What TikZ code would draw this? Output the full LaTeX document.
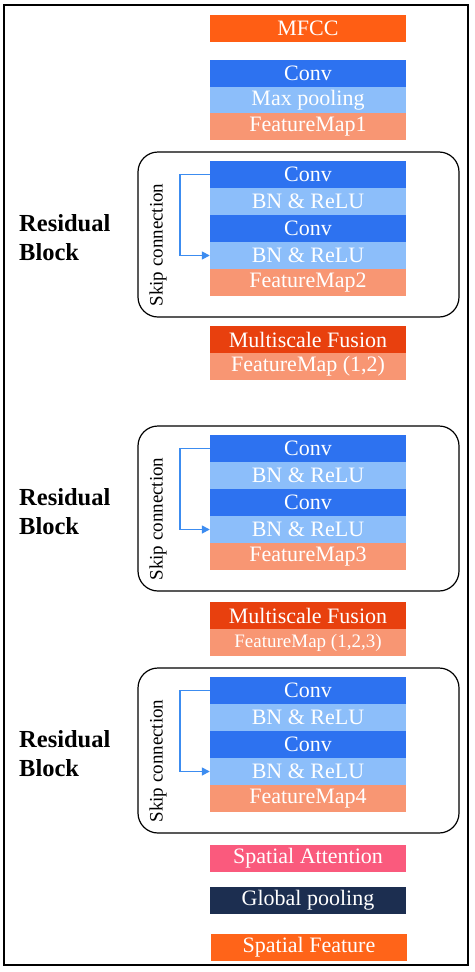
\documentclass[tikz,border=0pt]{standalone}
\usepackage{fontspec}
\setmainfont{Liberation Serif}
\usetikzlibrary{arrows.meta}

\definecolor{mfcc}{RGB}{255,94,20}
\definecolor{convblue}{RGB}{45,114,240}
\definecolor{bnblue}{RGB}{140,190,250}
\definecolor{featmap}{RGB}{248,150,115}
\definecolor{fusion}{RGB}{232,64,14}
\definecolor{attention}{RGB}{250,90,125}
\definecolor{gpool}{RGB}{28,46,80}
\definecolor{spfeat}{RGB}{255,100,25}
\definecolor{skipblue}{RGB}{60,140,240}

\tikzset{
  layer/.style={minimum width=196pt, minimum height=27pt, inner sep=0pt,
    text=white, font=\fontsize{22}{24}\selectfont},
  skiparrow/.style={draw=skipblue, line width=1.6pt,
    -{Triangle[length=8pt,width=8pt]}},
}

\newcommand\resblock[2]{%
  \draw[line width=1.2pt, rounded corners=20pt] (138,0) rectangle (459,165);
  \node[layer, fill=convblue] (conva#1) at (308,22.5) {Conv};
  \node[layer, fill=bnblue] (bna#1) at (308,49.5) {BN \& ReLU};
  \node[layer, fill=convblue] (convb#1) at (308,76.5) {Conv};
  \node[layer, fill=bnblue] (bnb#1) at (308,103.5) {BN \& ReLU};
  \node[layer, fill=featmap] (fm#1) at (308,130.5) {#2};
  \draw[skiparrow] (conva#1.west) -- ++(-30,0) |- (bnb#1.west);
  \node[rotate=90, inner sep=0pt, font=\fontsize{19}{22}\selectfont]
    (skiptext#1) at (158,93) {Skip connection};
  \node[align=left, anchor=west, inner sep=0pt,
    font=\bfseries\fontsize{24.5}{29}\selectfont] (label#1) at (19,86) {Residual\\Block};
}

\begin{document}
\begin{tikzpicture}[yscale=-1, x=1pt, y=1pt]

  \useasboundingbox (0,0) rectangle (474,972);
  \draw[line width=2pt] (4,5) rectangle (468,965);

  \node[layer, fill=mfcc] (mfcc) at (308,28) {MFCC};

  \node[layer, fill=convblue] (conv0) at (308,73.5) {Conv};
  \node[layer, fill=bnblue] (maxpool) at (308,100.2) {Max pooling};
  \node[layer, fill=featmap] (fm1) at (308,126.9) {FeatureMap1};

  \begin{scope}[shift={(0,152)}]
    \resblock{1}{FeatureMap2}
  \end{scope}

  \node[layer, fill=fusion] (fusion1) at (308,339.5) {Multiscale Fusion};
  \node[layer, fill=featmap] (fm12) at (308,366.5) {FeatureMap (1,2)};

  \begin{scope}[shift={(0,426)}]
    \resblock{2}{FeatureMap3}
  \end{scope}

  \node[layer, fill=fusion] (fusion2) at (308,615.5) {Multiscale Fusion};
  \node[layer, fill=featmap, font=\fontsize{19}{22}\selectfont] (fm123) at (308,642.5) {FeatureMap (1,2,3)};

  \begin{scope}[shift={(0,668)}]
    \resblock{3}{FeatureMap4}
  \end{scope}

  \node[layer, fill=attention] (attn) at (308,858.5) {Spatial Attention};
  \node[layer, fill=gpool] (gpool) at (308,900) {Global pooling};
  \node[layer, fill=spfeat] (spfeat) at (309,947) {Spatial Feature};

\end{tikzpicture}
\end{document}
